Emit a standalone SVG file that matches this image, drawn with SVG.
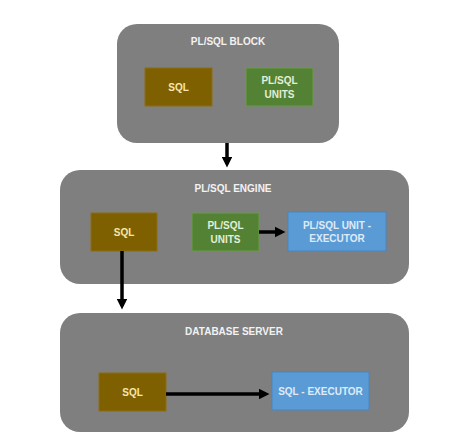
<svg xmlns="http://www.w3.org/2000/svg" width="474" height="447" viewBox="0 0 474 447">
<style>
.panel{fill:#7f7f7f;}
.title{font-family:"Liberation Sans",Arial,sans-serif;font-size:10px;font-weight:bold;fill:#f2f2f2;text-anchor:middle;}
.lbl{font-family:"Liberation Sans",Arial,sans-serif;font-size:10px;font-weight:bold;text-anchor:middle;}
.sql{fill:#7f6000;stroke:#8c6d10;stroke-width:1;}
.sqlt{fill:#f5e7b0;}
.unit{fill:#548235;stroke:#6a9a4a;stroke-width:1;}
.unitt{fill:#e2efd9;}
.exec{fill:#5b9bd5;stroke:#4a86c0;stroke-width:1;}
.exect{fill:#deebf7;}
.conn{stroke:#000;stroke-width:3.5;fill:none;marker-end:url(#ah);}
</style>
<defs>
<marker id="ah" markerWidth="3" markerHeight="3" refX="2" refY="1.5" orient="auto" markerUnits="strokeWidth">
<path d="M0,0 L3,1.5 L0,3 Z" fill="#000"/>
</marker>
</defs>
<rect width="474" height="447" fill="#ffffff"/>
<g id="plsql-block">
<rect class="panel" x="117" y="24" width="222" height="119" rx="20"/>
<text class="title" x="228" y="44.5">PL/SQL BLOCK</text>
</g>
<g id="block-sql">
<rect class="sql" x="145" y="68" width="67" height="38"/>
<text class="lbl sqlt" x="178.5" y="90.5">SQL</text>
</g>
<g id="block-units">
<rect class="unit" x="246" y="68" width="67" height="38"/>
<text class="lbl unitt" x="279.5" y="84">PL/SQL</text>
<text class="lbl unitt" x="279.5" y="97.5">UNITS</text>
</g>
<g id="plsql-engine">
<rect class="panel" x="60" y="170" width="349" height="114" rx="20"/>
<text class="title" x="233" y="191.5">PL/SQL ENGINE</text>
</g>
<g id="engine-sql">
<rect class="sql" x="91" y="213" width="66" height="38"/>
<text class="lbl sqlt" x="124" y="235.5">SQL</text>
</g>
<g id="engine-units">
<rect class="unit" x="192" y="213" width="67" height="38"/>
<text class="lbl unitt" x="225.5" y="229">PL/SQL</text>
<text class="lbl unitt" x="225.5" y="242.5">UNITS</text>
</g>
<g id="engine-executor">
<rect class="exec" x="288" y="212" width="98" height="39"/>
<text class="lbl exect" x="337" y="228.5">PL/SQL UNIT -</text>
<text class="lbl exect" x="337" y="242">EXECUTOR</text>
</g>
<g id="database-server">
<rect class="panel" x="60" y="313" width="349" height="119" rx="20"/>
<text class="title" x="234" y="334.5">DATABASE SERVER</text>
</g>
<g id="db-sql">
<rect class="sql" x="99" y="373" width="67" height="38"/>
<text class="lbl sqlt" x="132.5" y="395.5">SQL</text>
</g>
<g id="db-executor">
<rect class="exec" x="272" y="372" width="97" height="38"/>
<text class="lbl exect" x="320.5" y="394.5">SQL - EXECUTOR</text>
</g>
<g id="connectors">
<line class="conn" x1="227" y1="143" x2="227" y2="164"/>
<line class="conn" x1="259" y1="232" x2="282" y2="232"/>
<line class="conn" x1="122" y1="251" x2="122" y2="306"/>
<line class="conn" x1="166" y1="394" x2="266" y2="394"/>
</g>
</svg>
